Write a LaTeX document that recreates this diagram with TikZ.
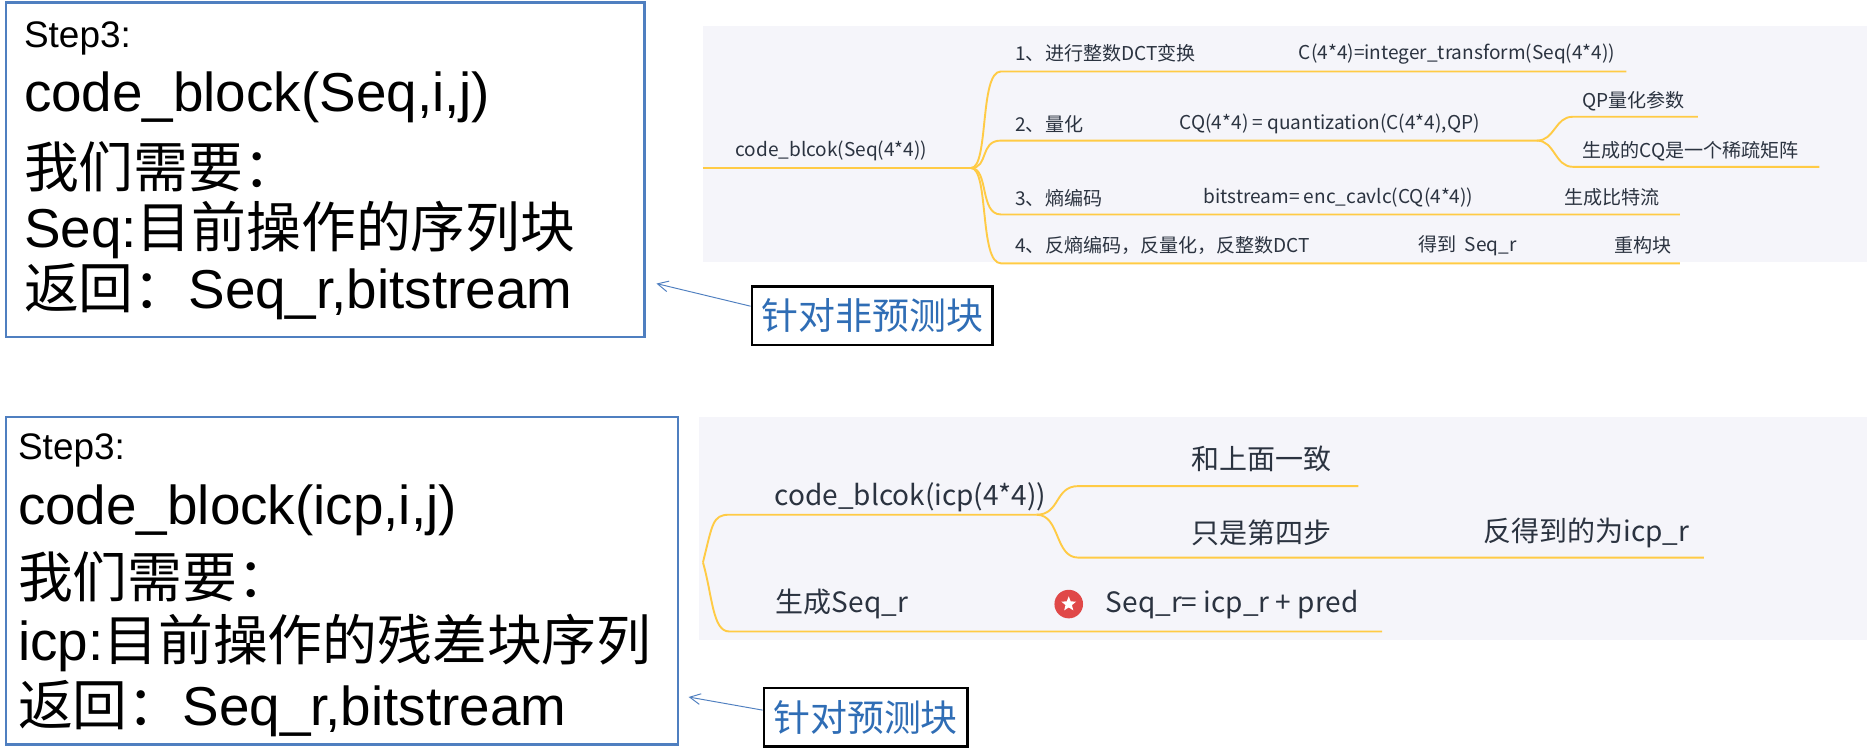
\documentclass[tikz,border=0pt]{standalone}
\usepackage{fontspec}
\setmainfont{Liberation Sans}
\newfontfamily\cjk{Noto Sans CJK SC}
\definecolor{bframe}{HTML}{4F7FC0}
\definecolor{mmbg}{HTML}{F5F5FA}
\definecolor{mmline}{HTML}{FFCB45}
\definecolor{mmtext}{HTML}{2B3340}
\definecolor{lbl}{HTML}{2F6DB5}
\definecolor{starc}{HTML}{E04848}
\usetikzlibrary{arrows.meta,shapes.geometric}
\tikzset{
  bigbox/.style={draw=bframe,line width=2pt},
  big/.style={anchor=west,inner sep=0,font=\fontsize{46}{50}\selectfont},
  small/.style={anchor=west,inner sep=0,font=\fontsize{31}{34}\selectfont},
  lblbox/.style={draw=black,line width=2pt,text=lbl,font=\cjk\fontsize{31}{34}\selectfont,minimum height=49pt,inner xsep=8pt},
  arr/.style={draw=bframe,line width=0.8pt,-{Straight Barb[length=9pt,width=9pt]}},
  mm/.style={draw=mmline,line width=1.6pt},
  mt/.style={anchor=west,inner sep=0,text=mmtext,font=\cjk\fontsize{16}{18}\selectfont},
  mtb/.style={anchor=west,inner sep=0,text=mmtext,font=\cjk\fontsize{23.5}{26}\selectfont},
}
\begin{document}
\begin{tikzpicture}[x=1pt,y=-1pt]
\useasboundingbox (0,0) rectangle (1567,633);
\fill[white] (0,0) rectangle (1567,633);
% top left box
\draw[bigbox] (5,2) rectangle (541,283);
\node[small] (s1) at (20,32) {Step3:};
\node[big] (c1) at (20,82) {code\_block(Seq,i,j)};
\node[big] (w1) at (20,140) {\cjk 我们需要：};
\node[big] (q1) at (20,193) {Seq:{\cjk 目前操作的序列块}};
\node[big] (r1) at (20,245) {{\cjk 返回：}Seq\_r,bitstream};
\node[lblbox,anchor=west] (l1) at (630,265) {针对非预测块};
\coordinate (t1) at (551,238);
\coordinate (f1) at (630,257);
\draw[arr] (f1) -- (t1);
% bottom left box
\draw[bigbox] (5,350) rectangle (569,625);
\node[small] (s2) at (15,378) {Step3:};
\node[big] (c2) at (15,428) {code\_block(icp,i,j)};
\node[big] (w2) at (15,484) {\cjk 我们需要：};
\node[big] (q2) at (15,540) {icp:{\cjk 目前操作的残差块序列}};
\node[big] (r2) at (15,595) {{\cjk 返回：}Seq\_r,bitstream};
\node[lblbox,anchor=west] (l2) at (640,602) {针对预测块};
\coordinate (t2) at (578,585);
\coordinate (f2) at (640,596);
\draw[arr] (f2) -- (t2);
% top mind map
\fill[mmbg] (590,22) rectangle (1567,220);
\coordinate (r0) at (590,141);
\coordinate (rb) at (815,141);
\draw[mm] (r0) -- (rb);
\node[mt] (rt) at (617,127) {code\_blcok(Seq(4*4))};
\foreach \n/\y/\e in {a/60/1365,b/118/1290,c/180/1410,d/221/1410}{
  \coordinate (\n s) at (840,\y);
  \coordinate (\n e) at (\e,\y);
  \draw[mm] (rb) .. controls (830,141) and (822,\y) .. (\n s) -- (\n e);
}
\node[mt] (a1) at (852,45) {1、进行整数DCT变换};
\node[mt] (a2) at (1090,45) {C(4*4)=integer\_transform(Seq(4*4))};
\node[mt] (b1) at (852,104) {2、量化};
\node[mt] (b2) at (990,104) {CQ(4*4) = quantization(C(4*4),QP)};
\coordinate (bq) at (1320,98);
\coordinate (bqe) at (1425,98);
\coordinate (bc) at (1320,140);
\coordinate (bce) at (1527,140);
\draw[mm] (be) .. controls (1305,118) and (1305,98) .. (bq) -- (bqe);
\draw[mm] (be) .. controls (1305,118) and (1305,140) .. (bc) -- (bce);
\node[mt] (bq1) at (1328,85) {QP量化参数};
\node[mt] (bc1) at (1328,127) {生成的CQ是一个稀疏矩阵};
\node[mt] (c1m) at (852,166) {3、熵编码};
\node[mt] (c2m) at (1010,166) {bitstream= enc\_cavlc(CQ(4*4))};
\node[mt] (c3m) at (1313,166) {生成比特流};
\node[mt] (d1) at (852,206) {4、反熵编码，反量化，反整数DCT};
\node[mt] (d2) at (1190,206) {得到 \ Seq\_r};
\node[mt] (d3) at (1355,206) {重构块};
% bottom mind map
\fill[mmbg] (587,350) rectangle (1567,537);
\coordinate (p0) at (590,472);
\coordinate (pa) at (612,432);
\coordinate (pae) at (870,432);
\coordinate (pb) at (612,530);
\coordinate (pbe) at (1160,530);
\draw[mm] (p0) .. controls (598,440) and (598,432) .. (pa) -- (pae);
\draw[mm] (p0) .. controls (598,500) and (598,530) .. (pb) -- (pbe);
\node[mtb] (pat) at (650,417) {code\_blcok(icp(4*4))};
\node[mtb] (pbt) at (651,507) {生成Seq\_r};
\coordinate (qa) at (905,408);
\coordinate (qae) at (1140,408);
\coordinate (qb) at (905,468);
\coordinate (qbe) at (1430,468);
\draw[mm] (pae) .. controls (890,432) and (885,408) .. (qa) -- (qae);
\draw[mm] (pae) .. controls (890,432) and (885,468) .. (qb) -- (qbe);
\node[mtb] (qat) at (1000,385) {和上面一致};
\node[mtb] (qbt) at (1000,447) {只是第四步};
\node[mtb] (qbt2) at (1245,447) {反得到的为icp\_r};
\node[circle,fill=starc,minimum size=24pt,inner sep=0] (ic) at (897,507) {};
\node[star,star points=5,star point ratio=2.3,fill=white,minimum size=13pt,inner sep=0] (st) at (ic) {};
\node[mtb] (eq) at (928,507) {Seq\_r= icp\_r + pred};
\end{tikzpicture}
\end{document}
